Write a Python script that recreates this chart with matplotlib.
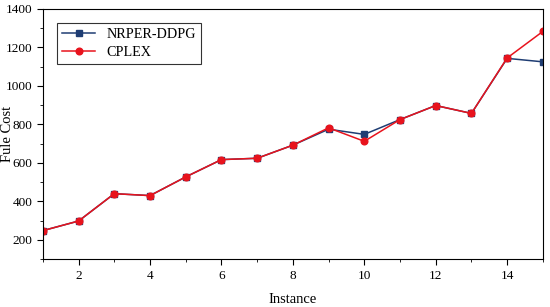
import matplotlib

matplotlib.use("Agg")
import matplotlib.pyplot as plt
from matplotlib.ticker import MultipleLocator

instances = list(range(1, 16))
nrper_ddpg = [248, 298, 440, 430, 527, 617, 624, 692, 775, 748, 825, 898, 857, 1143, 1125]
cplex = [248, 298, 440, 430, 527, 617, 624, 692, 782, 712, 825, 898, 857, 1145, 1283]

BLUE = "#1f3d73"
RED = "#e8131d"


def main() -> None:
    plt.rcParams["font.family"] = ["Liberation Serif", "DejaVu Serif"]
    fig = plt.figure(figsize=(5.5, 3.07), dpi=100)
    ax = fig.add_axes([0.078, 0.156, 0.909, 0.815])

    ax.plot(instances, nrper_ddpg, color=BLUE, marker="s", markersize=4.8,
            linewidth=1.1, label="NRPER-DDPG")
    ax.plot(instances, cplex, color=RED, marker="o", markersize=4.8,
            markeredgecolor=RED, linewidth=1.1, label="CPLEX")

    ax.set_xlim(1, 15)
    ax.set_ylim(100, 1400)
    ax.xaxis.set_major_locator(MultipleLocator(2))
    ax.xaxis.set_minor_locator(MultipleLocator(1))
    ax.yaxis.set_major_locator(MultipleLocator(200))
    ax.yaxis.set_minor_locator(MultipleLocator(100))
    ax.tick_params(which="both", direction="out", labelsize=9.5)
    ax.tick_params(which="major", length=4)
    ax.tick_params(which="minor", length=2)

    ax.set_xlabel("Instance", fontsize=10.5, labelpad=8)
    ax.set_ylabel("Fule Cost", fontsize=10.5)
    ax.yaxis.set_label_coords(-0.058, 0.5)

    leg = ax.legend(loc="upper left", fontsize=10.2, fancybox=False,
                    edgecolor="black", borderpad=0.35, handlelength=2.3,
                    labelspacing=0.35, bbox_to_anchor=(0.015, 0.97))
    leg.get_frame().set_linewidth(0.8)

    fig.savefig("out.png", dpi=100)


if __name__ == "__main__":
    main()
